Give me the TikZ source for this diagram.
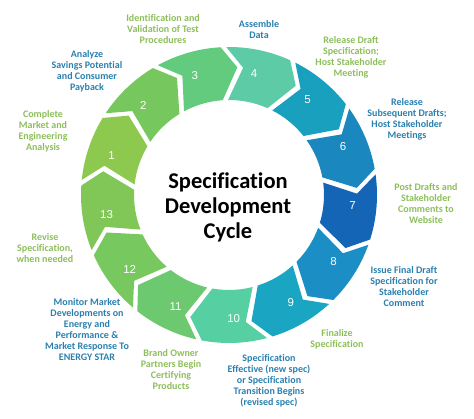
\documentclass[tikz,border=0pt]{standalone}
\usepackage{fontspec}
\setmainfont[Ligatures=NoCommon]{Carlito}
\newfontfamily\numfont{Liberation Sans}
\definecolor{seg1}{HTML}{8CC94E}
\definecolor{seg2}{HTML}{76C85E}
\definecolor{seg3}{HTML}{62CB7E}
\definecolor{seg4}{HTML}{5CCBA6}
\definecolor{seg5}{HTML}{1AA0BF}
\definecolor{seg6}{HTML}{1A87BF}
\definecolor{seg7}{HTML}{1565B6}
\definecolor{seg8}{HTML}{1B8EC5}
\definecolor{seg9}{HTML}{1AA6C2}
\definecolor{seg10}{HTML}{56CFA2}
\definecolor{seg11}{HTML}{6CC96F}
\definecolor{seg12}{HTML}{78C860}
\definecolor{seg13}{HTML}{80C758}
\definecolor{txtgreen}{HTML}{8DBE5B}
\definecolor{txtblue}{HTML}{2A80AE}
\tikzset{
    segnum/.style={text=white, font=\numfont\fontsize{11.5}{11.5}\selectfont},
    lblgreen/.style={text=txtgreen, align=center, font=\bfseries\fontsize{10}{11}\selectfont},
    lblblue/.style={lblgreen, text=txtblue},
    titel/.style={align=center, font=\bfseries\fontsize{22.5}{25}\selectfont}
}
\begin{document}
\begin{tikzpicture}[x=1pt, y=1pt]
        \useasboundingbox (0, 0) rectangle (474, 419);
        % Segmente
        \begin{scope}[shift={(229, 224)}]
        \foreach \k [evaluate=\k as \c using {161.4-(\k-1)*27.6923}] in {1, 2, ..., 13}
        {
            \pgfmathsetmacro{\hinten}{\c+13.85-1.1}
            \pgfmathsetmacro{\hintenin}{\c+13.85-1.6}
            \pgfmathsetmacro{\kerbe}{\c+13.85-8.5}
            \pgfmathsetmacro{\vorn}{\c-13.85+1.1}
            \pgfmathsetmacro{\vornin}{\c-13.85+1.6}
            \pgfmathsetmacro{\spitze}{\c-13.85-5.9}
            \fill[seg\k]
                (\hinten:148) arc[start angle=\hinten, end angle=\vorn, radius=148] --
                (\spitze:128) --
                (\vornin:95) arc[start angle=\vornin, end angle=\hintenin, radius=95] --
                (\kerbe:128) -- cycle;
            \node[segnum] (n\k) at (\c:124) {\k};
        }
        \end{scope}
        % Titel
        \node[titel] (titel) at (228, 212) {Specification\\Development\\Cycle};
        % Beschriftungen
        \node[lblgreen] (l1)  at (43, 288)  {Complete\\Market and\\Engineering\\Analysis};
        \node[lblblue]  (l2)  at (87, 348)  {Analyze\\Savings Potential\\and Consumer\\Payback};
        \node[lblgreen] (l3)  at (163, 390) {Identification and\\Validation of Test\\Procedures};
        \node[lblblue]  (l4)  at (259, 389) {Assemble\\Data};
        \node[lblgreen] (l5)  at (351, 362) {Release Draft\\Specification;\\Host Stakeholder\\Meeting};
        \node[lblblue]  (l6)  at (407, 300) {Release\\Subsequent Drafts;\\Host Stakeholder\\Meetings};
        \node[lblgreen] (l7)  at (426, 215) {Post Drafts and\\Stakeholder\\Comments to\\Website};
        \node[lblblue]  (l8)  at (404, 132) {Issue Final Draft\\Specification for\\Stakeholder\\Comment};
        \node[lblgreen] (l9)  at (337, 80)  {Finalize\\Specification};
        \node[lblblue]  (l10) at (269, 38)  {Specification\\Effective (new spec)\\or Specification\\Transition Begins\\(revised spec)};
        \node[lblgreen] (l11) at (171, 49)  {Brand Owner\\Partners Begin\\Certifying\\Products};
        \node[lblblue]  (l12) at (87, 89)   {Monitor Market\\Developments on\\Energy and\\Performance \&\\Market Response To\\ENERGY STAR};
        \node[lblgreen] (l13) at (45, 171)  {Revise\\Specification,\\when needed};
\end{tikzpicture}
\end{document}
